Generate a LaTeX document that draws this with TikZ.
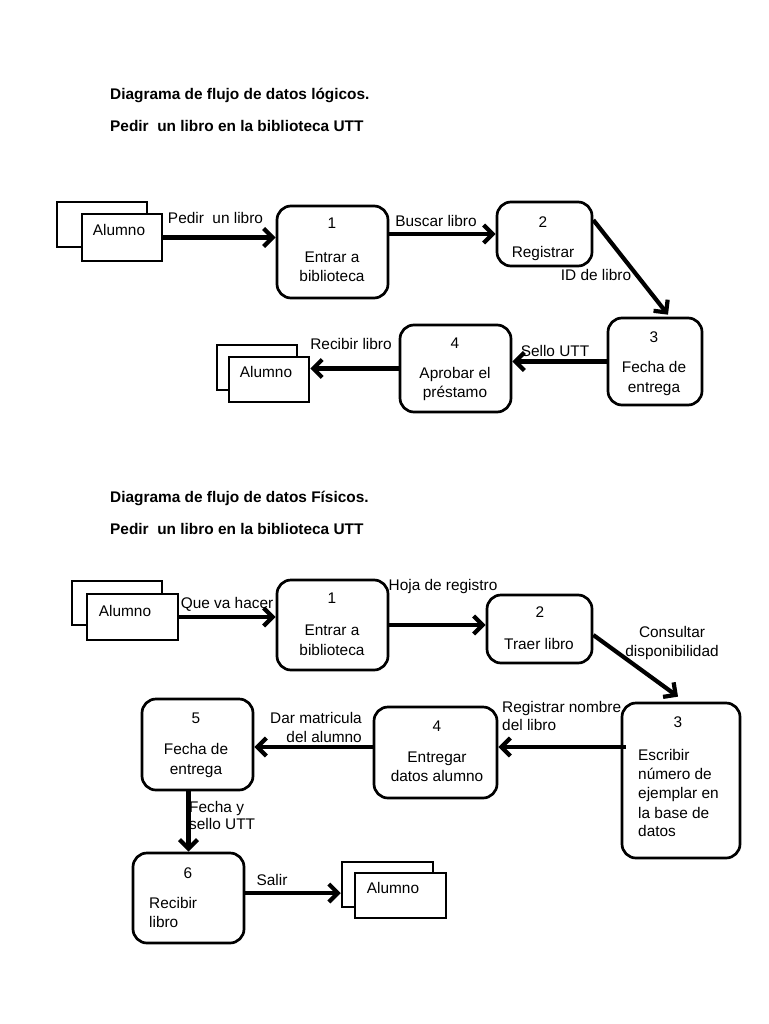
\documentclass[tikz,border=0pt]{standalone}
\usepackage{fontspec}
\setmainfont{Liberation Sans}
\usetikzlibrary{arrows.meta}
\begin{document}
\begin{tikzpicture}[x=1pt,y=-1pt,
  font=\fontsize{15.4}{19}\selectfont,
  proc/.style={draw, line width=2.7pt, rounded corners=14pt, inner sep=0},
  ent/.style={draw, fill=white, line width=2.5pt, inner sep=0},
  flow/.style={line width=4.2pt, -{Straight Barb[length=9pt,width=18pt]}},
  t/.style={anchor=base, inner sep=0},
  tl/.style={anchor=base west, inner sep=0},
  tr/.style={anchor=base east, inner sep=0},
  ttl/.style={anchor=base west, inner sep=0, font=\fontsize{15.4}{19}\selectfont\bfseries}]
\fill[white] (0,0) rectangle (768,1024);
\useasboundingbox (0,0) rectangle (768,1024);

% ---------- Titles ----------
\node[ttl] (T1) at (110,100) {Diagrama de flujo de datos lógicos.};
\node[ttl] (T2) at (110,132) {Pedir\ \ un libro en la biblioteca UTT};
\node[ttl] (T3) at (110,502) {Diagrama de flujo de datos Físicos.};
\node[ttl] (T4) at (110,534) {Pedir\ \ un libro en la biblioteca UTT};

% ---------- Top diagram ----------
\node[ent, minimum width=90pt, minimum height=45pt] (a1b) at (102,224.5) {};
\node[ent, minimum width=80pt, minimum height=47pt] (a1f) at (122,237.5) {};
\node[t] (a1t) at (119,236) {Alumno};

\node[proc, minimum width=111pt, minimum height=92pt] (p1) at (332.5,252) {};
\node[t] (p1n) at (332,229) {1};
\node[t] (p1a) at (332,262) {Entrar a};
\node[t] (p1b) at (332,281) {biblioteca};

\node[proc, minimum width=95pt, minimum height=64pt] (p2) at (544.5,234) {};
\node[t] (p2n) at (543,227) {2};
\node[t] (p2a) at (543,257) {Registrar};

\node[proc, minimum width=94pt, minimum height=87pt] (p3) at (655,361.5) {};
\node[t] (p3n) at (654,342) {3};
\node[t] (p3a) at (654,372) {Fecha de};
\node[t] (p3b) at (654,392) {entrega};

\node[proc, minimum width=111pt, minimum height=87pt] (p4) at (455.5,368.5) {};
\node[t] (p4n) at (455,348) {4};
\node[t] (p4a) at (455,378) {Aprobar el};
\node[t] (p4b) at (455,397) {préstamo};

\node[ent, minimum width=80pt, minimum height=45pt] (a2b) at (257,367.5) {};
\node[ent, minimum width=80pt, minimum height=45pt] (a2f) at (269,379.5) {};
\node[t] (a2t) at (266,377) {Alumno};

\draw[flow] (a1f.east) -- (a1f.east -| p1.west);
\draw[flow] (p1.east |- p2.west) -- (p2.west);
\draw[flow] ([yshift=14pt]p2.east) -- ([xshift=13pt,yshift=2pt]p3.north);
\draw[flow] (p3.west) -- (p3.west -| p4.east);
\draw[flow] (p4.west) -- (p4.west -| a2f.east);

\node[t] (l1) at (215.5,223) {Pedir\ \ un libro};
\node[t] (l2) at (436,226) {Buscar libro};
\node[t] (l3) at (596,280) {ID de libro};
\node[t] (l4) at (555,356) {Sello UTT};
\node[t] (l5) at (351,349) {Recibir libro};

% ---------- Bottom diagram ----------
\node[ent, minimum width=90pt, minimum height=44pt] (a3b) at (117,603) {};
\node[ent, minimum width=91pt, minimum height=46pt] (a3f) at (132.5,617) {};
\node[t] (a3t) at (125,616) {Alumno};

\node[proc, minimum width=111pt, minimum height=90pt] (q1) at (332.5,625) {};
\node[t] (q1n) at (332,603) {1};
\node[t] (q1a) at (332,635) {Entrar a};
\node[t] (q1b) at (332,655) {biblioteca};

\node[proc, minimum width=105pt, minimum height=68pt] (q2) at (539.5,629) {};
\node[t] (q2n) at (540,617) {2};
\node[t] (q2a) at (539,649) {Traer libro};

\node[proc, minimum width=118pt, minimum height=155pt] (q3) at (681,780.5) {};
\node[t] (q3n) at (678,727) {3};
\node[tl] (q3a) at (638,760) {Escribir};
\node[tl] (q3b) at (638,779) {número de};
\node[tl] (q3c) at (638,798) {ejemplar en};
\node[tl] (q3d) at (638,818) {la base de};
\node[tl] (q3e) at (638,836) {datos};

\node[proc, minimum width=123pt, minimum height=91pt] (q4) at (435.5,752.5) {};
\node[t] (q4n) at (437,731) {4};
\node[t] (q4a) at (437,762) {Entregar};
\node[t] (q4b) at (437,781) {datos alumno};

\node[proc, minimum width=111pt, minimum height=91pt] (q5) at (197.5,744.5) {};
\node[t] (q5n) at (196,723) {5};
\node[t] (q5a) at (196,754) {Fecha de};
\node[t] (q5b) at (196,774) {entrega};

\node[proc, minimum width=111pt, minimum height=90pt] (q6) at (188.5,898) {};
\node[t] (q6n) at (188,878) {6};
\node[tl] (q6a) at (149,908) {Recibir};
\node[tl] (q6b) at (149,927) {libro};

\node[ent, minimum width=91pt, minimum height=45pt] (a4b) at (387.5,884.5) {};
\node[ent, minimum width=91pt, minimum height=45pt] (a4f) at (400.5,895.5) {};
\node[t] (a4t) at (393,893) {Alumno};

\draw[flow] (a3f.east) -- (a3f.east -| q1.west);
\draw[flow] (q1.east) -- (q1.east -| q2.west);
\draw[flow] ([yshift=-6pt]q2.east) -- ([xshift=-3pt,yshift=5pt]q3.north);
\draw[flow] ([xshift=5pt]q3.west |- 0,747) -- (q4.east |- 0,747);
\draw[flow] (q4.west |- 0,747) -- (q5.east |- 0,747);
\draw[flow] (q5.south -| q6.north) -- (q6.north);
\draw[flow] (q6.east |- 0,893) -- (a4b.west |- 0,893);

\node[t] (m1) at (227,608) {Que va hacer};
\node[t] (m2) at (443,590) {Hoja de registro};
\node[t] (m3a) at (672,637) {Consultar};
\node[t] (m3b) at (672,656) {disponibilidad};
\node[tl] (m4a) at (502,712) {Registrar nombre};
\node[tl] (m4b) at (502,730) {del libro};
\node[tr] (m5a) at (362,723) {Dar matricula};
\node[tr] (m5b) at (362,742) {del alumno};
\node[tl] (m6a) at (189,812) {Fecha y};
\node[tl] (m6b) at (189,829) {sello UTT};
\node[t] (m7) at (272,885) {Salir};
\end{tikzpicture}
\end{document}
